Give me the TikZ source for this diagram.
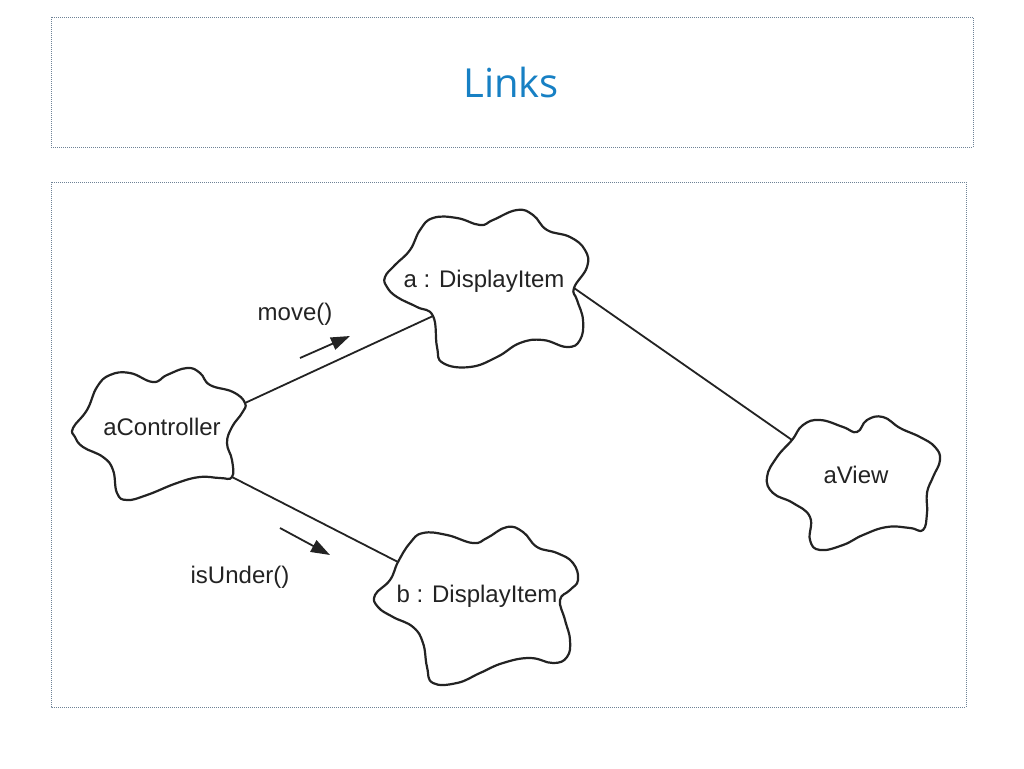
\documentclass[tikz,border=0pt]{standalone}
\usepackage{fontspec}
\setmainfont{Liberation Sans}
\newfontfamily\titlefont{Open Sans}
\usetikzlibrary{arrows.meta}
\definecolor{titleblue}{RGB}{23,128,196}
\definecolor{framegray}{RGB}{110,130,150}
\definecolor{inkgray}{RGB}{35,35,35}
\begin{document}
\begin{tikzpicture}[x=1pt,y=-1pt,
  frame/.style={draw=framegray,line width=0.9pt,dash pattern=on 1pt off 1pt},
  cloudline/.style={draw=inkgray,line width=2.2pt,fill=white,line join=round},
  link/.style={draw=inkgray,line width=1.8pt},
  msgarrow/.style={draw=inkgray,line width=1.8pt,-{Triangle[length=19pt,width=13pt]}},
  lbl/.style={inner sep=0pt,text=inkgray,font=\fontsize{24}{28}\selectfont}]
\useasboundingbox (0,0) rectangle (1024,768);
\fill[white] (0,0) rectangle (1024,768);
% frames
\draw[frame] (51,17) rectangle (973,147);
\draw[frame] (51,182) rectangle (966,707);
\node[inner sep=0pt,text=titleblue,font=\titlefont\fontsize{40}{46}\selectfont] (title) at (511,82) {Links};
% attachment coordinates
\coordinate (aC-a) at (245,403);
\coordinate (a-aC) at (433,316);
\coordinate (aC-b) at (232,477);
\coordinate (b-aC) at (398,562);
\coordinate (a-v) at (574,288);
\coordinate (v-a) at (792,440);
% links
\draw[link] (aC-a) -- (a-aC);
\draw[link] (aC-b) -- (b-aC);
\draw[link] (a-v) -- (v-a);
% clouds
\draw[cloudline] plot[smooth cycle,tension=0.75] coordinates {
 (385,277) (395,265) (410,250) (420,230) (433,218) (457,218) (480,225) (493,220)
 (517,210) (533,215) (547,230) (570,237) (585,250) (587,267) (574,288) (577,300)
 (583,320) (580,340) (567,347) (543,340) (520,343) (497,357) (470,367) (443,363)
 (437,347) (433,316) (417,307) (397,297) (387,287)};
\draw[cloudline] plot[smooth cycle,tension=0.75] coordinates {
 (73,428) (87,410) (97,387) (110,375) (130,373) (153,382) (167,375) (187,368)
 (200,373) (210,385) (233,392) (245,403) (242,413) (232,427) (227,443) (232,460)
 (232,477) (220,478) (200,477) (177,483) (147,495) (127,500) (117,493) (113,470)
 (103,457) (83,447) (75,437)};
\draw[cloudline] plot[smooth cycle,tension=0.75] coordinates {
 (767,477) (777,457) (792,440) (803,425) (820,420) (843,427) (857,432) (867,420)
 (883,417) (900,428) (920,437) (935,447) (940,460) (933,477) (927,493) (927,513)
 (923,530) (910,528) (887,527) (863,535) (843,545) (820,550) (810,540) (810,517)
 (793,503) (773,493)};
\draw[cloudline] plot[smooth cycle,tension=0.75] coordinates {
 (375,595) (390,580) (398,562) (410,543) (423,533) (447,535) (473,543) (487,538)
 (507,527) (523,532) (537,547) (557,553) (573,563) (578,580) (570,590) (560,600)
 (565,620) (570,640) (567,657) (553,663) (530,658) (503,663) (480,673) (457,683)
 (433,683) (427,667) (423,643) (413,627) (393,617) (378,607)};
% object labels
\node[lbl] (a) at (484,281) {a : DisplayItem};
\node[lbl] (aC) at (162,427) {aController};
\node[lbl] (v) at (856,475) {aView};
\node[lbl] (b) at (477,596) {b : DisplayItem};
% messages
\node[lbl] (mv) at (295,314) {move()};
\node[lbl] (iu) at (240,577) {isUnder()};
\coordinate (mv1) at (300,358);
\coordinate (mv2) at (350,336);
\coordinate (iu1) at (280,528);
\coordinate (iu2) at (330,555);
\draw[msgarrow] (mv1) -- (mv2);
\draw[msgarrow] (iu1) -- (iu2);
\end{tikzpicture}
\end{document}
